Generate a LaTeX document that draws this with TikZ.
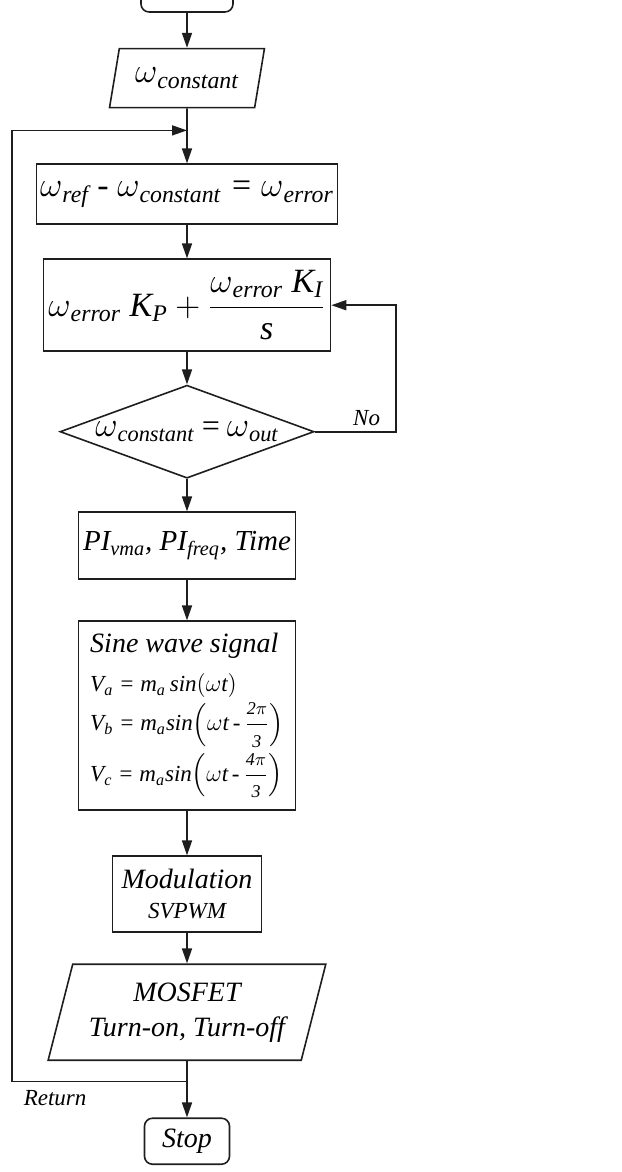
\documentclass[tikz,border=0pt]{standalone}
\usepackage{amsmath}
\usepackage{fontspec}
\setmainfont{Liberation Serif}
\usepackage{tikz}
\usetikzlibrary{positioning, arrows.meta, calc, shapes.geometric}
\definecolor{ink}{RGB}{30,30,30}
\newcommand{\sw}[1]{\textsubscript{#1}}
\newcommand{\w}{$\omega$}
\newcommand{\bigsz}{\fontsize{17}{20}\selectfont}
\newcommand{\eqsz}{\fontsize{11.5}{14}\selectfont}
\newcommand{\fracsz}{\fontsize{9}{10}\selectfont}
\tikzset{
  block/.style={
    rectangle, draw=ink, line width=0.8pt, inner sep=2pt,
    font=\fontsize{14}{17.5}\selectfont\itshape, align=center
  },
  io/.style={block, trapezium, trapezium stretches=true},
  decision/.style={block, diamond},
  term/.style={block, rounded corners=4pt},
  link/.style={draw=ink, line width=0.8pt, ->},
  every edge/.style={link},
  tag/.style={font=\fontsize{11.5}{13}\selectfont\itshape, inner sep=1pt},
}

\begin{document}
\begin{tikzpicture}[x=0.5pt, y=0.5pt, >={Triangle[length=7.5pt,width=5pt]}]
  \useasboundingbox (0,0) rectangle (621,1172);
  \node[term, minimum width=46pt, minimum height=23pt] (start) at (187,1183) {};
  \node[io, below=17.5pt of start, minimum width=77.5pt, minimum height=29.5pt,
        trapezium left angle=74, trapezium right angle=106] (in1) {\bigsz\w\sw{constant}};
  \node[block, below=27.5pt of in1, minimum width=150.5pt, minimum height=30pt] (err)
    {\bigsz\makebox[0pt]{\w\sw{ref} - \w\sw{constant} = \w\sw{error}}};
  \node[block, below=16.7pt of err, minimum width=143.5pt, minimum height=46pt] (pi)
    {\bigsz $\text{\w\sw{error} K\sw{P}} + \dfrac{\text{\w\sw{error} K\sw{I}}}{\text{s}}$};
  \node[decision, below=16.2pt of pi, minimum width=127pt, minimum height=46.5pt] (chk)
    {\fontsize{16}{20}\selectfont\makebox[0pt]{\w\sw{constant}\,=\,\w\sw{out}}};
  \node[block, below=16.2pt of chk, minimum width=108.5pt, minimum height=33.5pt] (par)
    {\fontsize{14.5}{18}\selectfont PI\sw{vma}, PI\sw{freq}, Time};
  \node[block, below=20.2pt of par, minimum width=108.5pt, minimum height=94.5pt, align=left] (sine)
    {Sine wave signal\\[2pt]
     {\eqsz V\sw{a} = m\sw{a}\,sin$(\omega\text{t})$}\\[2pt]
     {\eqsz V\sw{b} = m\sw{a}sin$\left(\text{\w t\,-\,}\dfrac{\text{\fracsz 2$\pi$}}{\text{\fracsz 3}}\right)$}\\[2pt]
     {\eqsz V\sw{c} = m\sw{a}sin$\left(\text{\w t\,-\,}\dfrac{\text{\fracsz 4$\pi$}}{\text{\fracsz 3}}\right)$}};
  \node[block, below=22.2pt of sine, minimum width=74.5pt, minimum height=38pt] (mod)
    {Modulation\\[-2.5pt]{\fontsize{11.5}{13}\selectfont SVPWM}};
  \node[io, below=15.2pt of mod, minimum width=139pt, minimum height=48pt,
        trapezium left angle=72, trapezium right angle=108] (mos) {MOSFET\\Turn-on, Turn-off};
  \node[term, below=28.2pt of mos, minimum width=42.5pt, minimum height=23pt] (stop) {Stop};

  \path (start) edge (in1)
        (in1) edge (err)
        (err) edge (pi)
        (pi) edge (chk)
        (chk) edge (par)
        (par) edge (sine)
        (sine) edge (mod)
        (mod) edge (mos)
        (mos) edge (stop);

  % return path and the No branch
  \coordinate (ret) at ($(mos.south)!0.36!(stop.north)$);
  \coordinate (join) at ($(in1.south)!0.4!(err.north)$);
  \draw[link] (ret) -- ++(-175,0) node[tag, below right, xshift=4.5pt, yshift=-3pt] {Return} |- (join);
  \draw[link] (chk.east) -- ++(81,0) node[tag, above left, xshift=-6.5pt, yshift=1.5pt] {No} |- (pi.east);
\end{tikzpicture}
\end{document}
